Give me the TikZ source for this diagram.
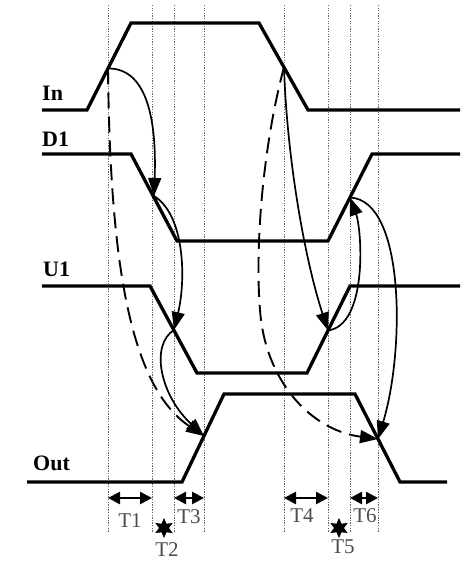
\documentclass[tikz,border=0pt]{standalone}
\usepackage{fontspec}
\setmainfont{Liberation Serif}
\usetikzlibrary{arrows.meta,shapes.geometric}
\begin{document}
\begin{tikzpicture}[x=1pt,y=-1pt,
 sig/.style={line width=3.3pt, line join=miter},
 guide/.style={black!60, line width=0.9pt, dash pattern=on 1.3pt off 1.3pt},
 flow/.style={line width=1.7pt, -{Triangle[length=18pt,width=13pt]}},
 dflow/.style={flow, line width=1.9pt, dash pattern=on 16pt off 8pt},
 dimarrow/.style={line width=2.6pt, {Triangle[length=12pt,width=12pt]}-{Triangle[length=12pt,width=12pt]}},
 lab/.style={font=\fontsize{22}{22}\selectfont\bfseries, inner sep=0pt, anchor=base west},
 tlab/.style={font=\fontsize{21}{21}\selectfont, text=black!70, inner sep=0pt, anchor=base},
 tstar/.style={star, star points=6, star point ratio=2.0, fill=black, inner sep=0pt, minimum size=20pt}
]
\useasboundingbox (0,0) rectangle (474,585);

% guide lines
\foreach \gx in {108,152,174,204,284,328,350,378}
  \draw[guide] (\gx,5) -- (\gx,532);

% signals
\draw[sig] (42,110) -- (87,110) -- (131,23) -- (259,23) -- (308,110) -- (460,110);
\draw[sig] (42,154) -- (131,154) -- (177,241) -- (328,241) -- (372,154) -- (460,154);
\draw[sig] (42,286) -- (150,286) -- (197,373) -- (307,373) -- (350,286) -- (460,286);
\draw[sig] (27,482) -- (182,482) -- (224,394) -- (355,394) -- (400,482) -- (447,482);

% labels
\node[lab] (lin) at (42,101) {In};
\node[lab] (ld1) at (42,147) {D1};
\node[lab] (lu1) at (43,276) {U1};
\node[lab] (lout) at (33,470) {Out};

% key points
\coordinate (a) at (108,68.5);
\coordinate (b) at (154,196);
\coordinate (c) at (174,330);
\coordinate (d) at (204,436);
\coordinate (e) at (284,67);
\coordinate (f) at (328,330.5);
\coordinate (g) at (350,197.5);
\coordinate (h) at (378,439);

% causal arrows
\draw[flow] (a) .. controls (145,68) and (157,115) .. (b);
\draw[flow] (b) .. controls (185,215) and (186,280) .. (c);
\draw[flow] (c) .. controls (150,345) and (160,395) .. (d);
\draw[dflow] (a) .. controls (110,255) and (128,385) .. (d);
\draw[flow] (e) .. controls (287,160) and (305,260) .. (f);
\draw[flow] (f) .. controls (368,325) and (362,230) .. (g);
\draw[flow] (g) .. controls (405,200) and (405,350) .. (h);
\draw[dflow] (e) .. controls (262,150) and (255,250) .. (260,310)
  .. controls (265,380) and (310,430) .. (h);

% interval markers
\coordinate (t1l) at (108,498); \coordinate (t1r) at (152,498);
\coordinate (t3l) at (174,498); \coordinate (t3r) at (204,498);
\coordinate (t4l) at (284,498); \coordinate (t4r) at (328,498);
\coordinate (t6l) at (350,498); \coordinate (t6r) at (378,498);
\draw[dimarrow] (t1l) -- (t1r);
\draw[dimarrow] (t3l) -- (t3r);
\draw[dimarrow] (t4l) -- (t4r);
\draw[dimarrow] (t6l) -- (t6r);
\node[tstar] (s2) at (164,528) {};
\node[tstar] (s5) at (339,528) {};

\node[tlab] (T1) at (130,527) {T1};
\node[tlab] (T2) at (167,556) {T2};
\node[tlab] (T3) at (189,523) {T3};
\node[tlab] (T4) at (302,522) {T4};
\node[tlab] (T5) at (343,553) {T5};
\node[tlab] (T6) at (365,522) {T6};
\end{tikzpicture}
\end{document}
